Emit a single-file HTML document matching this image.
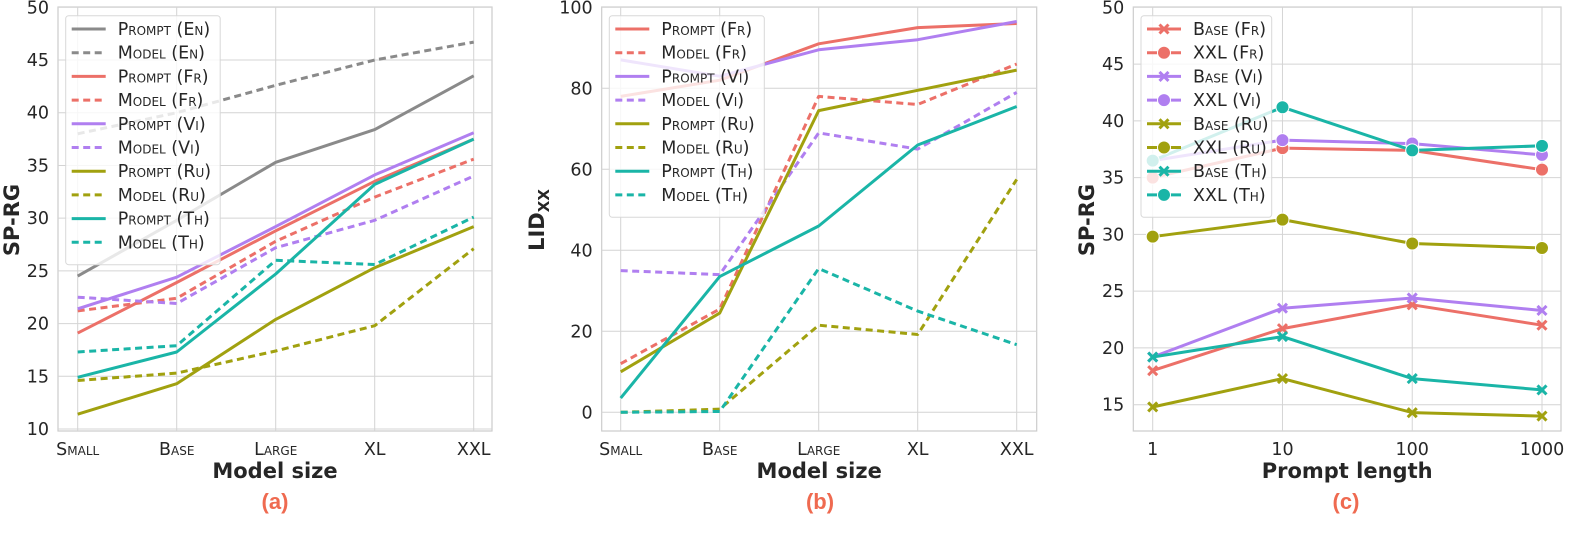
<!DOCTYPE html>
<html><head><meta charset="utf-8">
<style>
html,body{margin:0;padding:0;background:#fff;}
svg{display:block;font-family:"DejaVu Sans","Liberation Sans",sans-serif;}
.tick{font-size:17.5px;fill:#262626;}
.axl{font-size:21px;font-weight:bold;fill:#262626;}
.leg{font-size:17.5px;fill:#262626;font-variant:small-caps;}
.cap{font-size:22px;font-weight:bold;fill:#ef6a50;font-family:"Liberation Sans",sans-serif;}
</style></head>
<body>
<svg id="chart" width="1571" height="536" viewBox="0 0 1571 536"></svg>
<script>
const sizeCats = ["Small","Base","Large","XL","XXL"];
const lenCats = ["1","10","100","1000"];
const ticksA = [10,15,20,25,30,35,40,45,50];
const ticksB = [0,20,40,60,80,100];
const ticksC = [15,20,25,30,35,40,45,50];
const namesA = ["Prompt (En)","Model (En)","Prompt (Fr)","Model (Fr)","Prompt (Vi)","Model (Vi)","Prompt (Ru)","Model (Ru)","Prompt (Th)","Model (Th)"];
const promptEn = [24.5,29.8,35.3,38.4,43.5];
const modelEn = [38.0,40.0,42.6,45.0,46.7];
const promptFrA = [19.1,23.9,28.8,33.5,37.5];
const modelFrA = [21.2,22.4,27.8,32.0,35.6];
const promptViA = [21.4,24.4,29.2,34.1,38.1];
const modelViA = [22.5,21.9,27.2,29.8,34.0];
const promptRuA = [11.4,14.3,20.4,25.3,29.2];
const modelRuA = [14.6,15.3,17.4,19.8,27.1];
const promptThA = [14.9,17.3,24.7,33.2,37.5];
const modelThA = [17.3,17.9,26.0,25.6,30.1];
const promptFrB = [78,82,91,95,96];
const modelFrB = [12,25.5,78,76,86];
const promptViB = [87,83,89.5,92,96.5];
const modelViB = [35,34,69,65,79];
const promptRuB = [10,24.5,74.5,79.5,84.5];
const modelRuB = [0,0.8,21.5,19.2,57.5];
const promptThB = [3.5,33.5,46,66,75.5];
const modelThB = [0,0.2,35.5,25,16.7];
const baseFr = [18,21.7,23.8,22];
const xxlFr = [35,37.6,37.4,35.7];
const baseVi = [19.2,23.5,24.4,23.3];
const xxlVi = [36.5,38.3,38,37];
const baseRu = [14.8,17.3,14.3,14];
const xxlRu = [29.8,31.3,29.2,28.8];
const baseTh = [19.2,21,17.3,16.3];
const xxlTh = [36.5,41.2,37.4,37.8];

const C = {en:"#8a8a8a",fr:"#ec7068",vi:"#b07ff0",ru:"#a1a10f",th:"#1ab5a7"};
const NS="http://www.w3.org/2000/svg";
const svg=document.getElementById('chart');
function mk(tag,attrs,parent){const e=document.createElementNS(NS,tag);for(const k in attrs)e.setAttribute(k,attrs[k]);(parent||svg).appendChild(e);return e;}

function panel(p){
  const g=mk('g',{});
  
  
  const sx=i=>p.x0+(p.x1-p.x0)*i/(p.n-1);
  const sy=v=>p.yA+(v-p.vA)*(p.yB-p.yA)/(p.vB-p.vA);
  const box=mk('rect',{x:p.L,y:7,width:p.R-p.L,height:431-7,fill:'#fff',stroke:'#cccccc','stroke-width':1.2},g);
  
  
  p.ticks.forEach(t=>{
    const y=sy(t);
    const l=mk('line',{x1:p.L,x2:p.R,y1:y,y2:y,stroke:'#d4d4d4','stroke-width':1},g);
    
    
    const tx=mk('text',{x:p.L-9,y:y+6,'text-anchor':'end',class:'tick'},g);
    tx.textContent=t;
    
    
  });
  p.cats.forEach((c,i)=>{
    const x=sx(i);
    const l=mk('line',{x1:x,x2:x,y1:7,y2:431,stroke:'#d4d4d4','stroke-width':1},g);
    
    
    const tx=mk('text',{x:x,y:455,'text-anchor':'middle',class:'tick','font-variant':'small-caps'},g);
    tx.textContent=c;
    
    
  });
  const xl=mk('text',{x:(p.L+p.R)/2,y:478,'text-anchor':'middle',class:'axl'},g);
  xl.textContent=p.xlabel;
  
  
  const yl=mk('text',{x:0,y:0,'text-anchor':'middle',class:'axl',transform:`translate(${p.ylx},220) rotate(-90)`},g);
  if(p.sub){yl.textContent=p.ylabel;const ts=mk('tspan',{'font-size':'15px',dy:'5'},yl);ts.textContent=p.sub;}
  else yl.textContent=p.ylabel;
  
  
  p.series.forEach(s=>{
    const pts=s.v.map((v,i)=>sx(i).toFixed(1)+','+sy(v).toFixed(1)).join(' ');
    const pl=mk('polyline',{points:pts,fill:'none',stroke:s.c,'stroke-width':3,'stroke-dasharray':s.dash?'7,4.5':'none','stroke-linejoin':'round'},g);
    
    
    if(s.m){s.v.forEach((v,i)=>{marker(s.m,sx(i),sy(v),s.c,g);});}
  });
  const lg=mk('g',{},g);
  
  
  mk('rect',{x:p.lx,y:15.7,width:p.lw,height:p.series.length*23.7+12,rx:3,fill:'#fff','fill-opacity':0.8,stroke:'#d8d8d8'},lg);
  p.series.forEach((s,i)=>{
    const y=29+i*23.7;
    mk('line',{x1:p.lx+6,x2:p.lx+40,y1:y,y2:y,stroke:s.c,'stroke-width':3,'stroke-dasharray':s.dash?'7,4.5':'none'},lg);
    if(s.m) marker(s.m,p.lx+23,y,s.c,lg);
    const t=mk('text',{x:p.lx+52,y:y+6,class:'leg'},lg);
    t.textContent=s.n;
    
    
  });
  const cap=mk('text',{x:p.capx,y:509,'text-anchor':'middle',class:'cap'},g);
  cap.textContent=p.cap;
  
  
}
function marker(type,x,y,c,g){
  if(type==='o'){
    const m=mk('circle',{cx:x,cy:y,r:6.5,fill:c,stroke:'#fff','stroke-width':1},g);
    
    
  } else {
    const d=4.5;
    const m=mk('path',{d:`M${x-d},${y-d}L${x+d},${y+d}M${x-d},${y+d}L${x+d},${y-d}`,stroke:c,'stroke-width':3},g);
    
    
  }
}
panel({name:'panel-a',L:58,R:492,x0:77.7,x1:473.7,n:5,cats:sizeCats,vA:10,yA:429,vB:50,yB:7.3,ticks:ticksA,
  xlabel:'Model size',ylabel:'SP-RG',ylx:19,cap:'(a)',capx:275,lx:65.7,lw:154.5,
  series:[{n:namesA[0],v:promptEn,c:C.en},{n:namesA[1],v:modelEn,c:C.en,dash:1},
  {n:namesA[2],v:promptFrA,c:C.fr},{n:namesA[3],v:modelFrA,c:C.fr,dash:1},
  {n:namesA[4],v:promptViA,c:C.vi},{n:namesA[5],v:modelViA,c:C.vi,dash:1},
  {n:namesA[6],v:promptRuA,c:C.ru},{n:namesA[7],v:modelRuA,c:C.ru,dash:1},
  {n:namesA[8],v:promptThA,c:C.th},{n:namesA[9],v:modelThA,c:C.th,dash:1}]});
panel({name:'panel-b',L:601.7,R:1036.7,x0:620.7,x1:1016.7,n:5,cats:sizeCats,vA:0,yA:412.3,vB:100,yB:7.3,ticks:ticksB,
  xlabel:'Model size',ylabel:'LID',sub:'XX',ylx:544,cap:'(b)',capx:820,lx:609.3,lw:155,
  series:[{n:namesA[2],v:promptFrB,c:C.fr},{n:namesA[3],v:modelFrB,c:C.fr,dash:1},
  {n:namesA[4],v:promptViB,c:C.vi},{n:namesA[5],v:modelViB,c:C.vi,dash:1},
  {n:namesA[6],v:promptRuB,c:C.ru},{n:namesA[7],v:modelRuB,c:C.ru,dash:1},
  {n:namesA[8],v:promptThB,c:C.th},{n:namesA[9],v:modelThB,c:C.th,dash:1}]});
panel({name:'panel-c',L:1133.3,R:1561,x0:1152.7,x1:1542,n:4,cats:lenCats,vA:15,yA:404.7,vB:50,yB:7.3,ticks:ticksC,
  xlabel:'Prompt length',ylabel:'SP-RG',ylx:1094,cap:'(c)',capx:1346,lx:1141,lw:130.7,
  series:[{n:'Base (Fr)',v:baseFr,c:C.fr,m:'x'},{n:'XXL (Fr)',v:xxlFr,c:C.fr,m:'o'},
  {n:'Base (Vi)',v:baseVi,c:C.vi,m:'x'},{n:'XXL (Vi)',v:xxlVi,c:C.vi,m:'o'},
  {n:'Base (Ru)',v:baseRu,c:C.ru,m:'x'},{n:'XXL (Ru)',v:xxlRu,c:C.ru,m:'o'},
  {n:'Base (Th)',v:baseTh,c:C.th,m:'x'},{n:'XXL (Th)',v:xxlTh,c:C.th,m:'o'}]});
</script>
</body></html>
